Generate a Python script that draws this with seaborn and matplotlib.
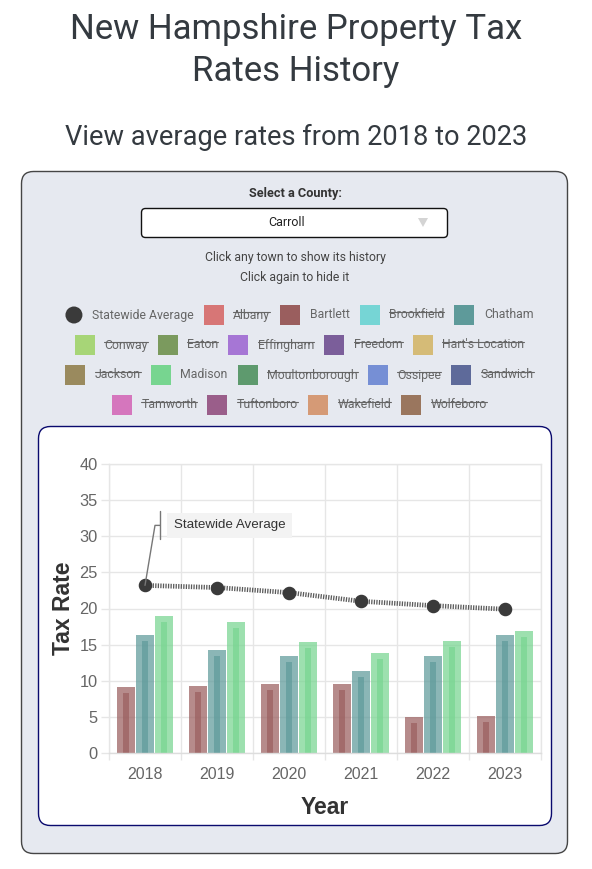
import matplotlib.pyplot as plt
import seaborn as sns
import pandas as pd
import numpy as np
from matplotlib.patches import FancyBboxPatch, Circle, Polygon
from matplotlib.lines import Line2D
from matplotlib.transforms import IdentityTransform

# --- data ---
years = ['2018', '2019', '2020', '2021', '2022', '2023']
bartlett = [9.1, 9.3, 9.6, 9.5, 5.0, 5.1]
chatham = [16.3, 14.2, 13.4, 11.3, 13.4, 16.4]
madison = [18.9, 18.2, 15.3, 13.8, 15.5, 16.9]
statewide = [23.2, 22.9, 22.2, 21.0, 20.4, 19.9]

towns = ['Albany', 'Bartlett', 'Brookfield', 'Chatham', 'Conway', 'Eaton',
         'Effingham', 'Freedom', "Hart's Location", 'Jackson', 'Madison',
         'Moultonborough', 'Ossipee', 'Sandwich', 'Tamworth', 'Tuftonboro',
         'Wakefield', 'Wolfeboro']
town_colors = ['#d77676', '#9a5e5e', '#76d5d5', '#5e9a9a', '#a7d577', '#7b9a5e',
               '#a676d5', '#7b5e9a', '#d5bb77', '#9a8a5e', '#77d590', '#5e9a6e',
               '#768fd5', '#5e6a9a', '#d576bd', '#9a5e8a', '#d59a76', '#9a765e']
shown_towns = ['Bartlett', 'Chatham', 'Madison']
legend_rows = [
    ['Statewide Average', 'Albany', 'Bartlett', 'Brookfield', 'Chatham'],
    ['Conway', 'Eaton', 'Effingham', 'Freedom', "Hart's Location"],
    ['Jackson', 'Madison', 'Moultonborough', 'Ossipee', 'Sandwich'],
    ['Tamworth', 'Tuftonboro', 'Wakefield', 'Wolfeboro'],
]

palette = dict(zip(towns, town_colors))
bars_df = pd.DataFrame({
    'Year': years * 3,
    'Rate': bartlett + chatham + madison,
    'Town': ['Bartlett'] * 6 + ['Chatham'] * 6 + ['Madison'] * 6,
})
avg_df = pd.DataFrame({'Year': years, 'Rate': statewide})

W, H = 592, 869
sns.set_theme(style='whitegrid')
plt.rcParams['font.family'] = ['Roboto', 'DejaVu Sans']
fig = plt.figure(figsize=(W / 100, H / 100), dpi=100)
fig.patch.set_facecolor('white')
px = IdentityTransform()


def box(x0, y0, x1, y1, r, fc, ec, lw=1.0, z=-2):
    # rounded box in pixel coords (y measured from the top)
    p = FancyBboxPatch((x0, H - y1), x1 - x0, y1 - y0,
                       boxstyle=f'round,pad=0,rounding_size={r}',
                       fc=fc, ec=ec, lw=lw, transform=px, zorder=z)
    fig.add_artist(p)


def text(x, y, s, **kw):
    return fig.text(x, H - y, s, transform=px, ha='center', va='center', **kw)


# page header
title_c = '#343a40'
text(296, 29, 'New Hampshire Property Tax', fontsize=25, color=title_c)
text(296, 72, 'Rates History', fontsize=25, color=title_c)
text(296, 137, 'View average rates from 2018 to 2023', fontsize=19.6, color=title_c)

# control panel
box(21.5, 171.5, 567.5, 853.5, 12, '#e6e9f0', '#454545', 1.0, z=-3)
text(295, 193, 'Select a County:', fontsize=9.2, fontweight='bold', color='#333333')
box(141.5, 208.5, 447.5, 237.5, 4, 'white', '#111111', 1.0)
text(287, 222, 'Carroll', fontsize=9, color='#222222')
fig.add_artist(Polygon([(418, H - 218), (428, H - 218), (423, H - 227)],
                       closed=True, fc='#d4d4d4', ec='none', transform=px))
text(295, 258, 'Click any town to show its history', fontsize=8.8, color='#444444')
text(295, 277, 'Click again to hide it', fontsize=8.8, color='#444444')

# legend (hidden towns are struck through)
renderer = fig.canvas.get_renderer()
row_y = [315, 345, 375, 405]
for ry, row in zip(row_y, legend_rows):
    items = []
    for name in row:
        t = fig.text(0, H - ry, name, transform=px, ha='left', va='center',
                     fontsize=8.85, color='#666666')
        w = t.get_window_extent(renderer).width
        sw = 17 if name == 'Statewide Average' else 20
        items.append((name, t, w, sw))
    total = sum(sw + 9.5 + w for _, _, w, sw in items) + 10 * (len(items) - 1)
    x = 299.5 - total / 2
    for name, t, w, sw in items:
        if name == 'Statewide Average':
            fig.add_artist(Circle((x + sw / 2, H - ry), sw / 2, fc='#3a3a3a',
                                  ec='none', transform=px))
        else:
            fig.add_artist(FancyBboxPatch((x, H - ry - 10), 20, 20, boxstyle='square,pad=0',
                                          fc=palette[name], ec='none', transform=px))
        tx = x + sw + 9.5
        t.set_position((tx, H - ry))
        if name != 'Statewide Average' and name not in shown_towns:
            fig.add_artist(Line2D([tx, tx + w], [H - ry + 3, H - ry + 3],
                                  color='#666666', lw=0.8, transform=px))
        x = tx + w + 10

# chart card
box(38.5, 426.5, 551.5, 825.5, 12, 'white', '#0a0a6e', 1.0, z=-1)

ax = fig.add_axes([109 / W, 1 - 753 / H, 432 / W, 289 / H])
ax.set_zorder(1)
ax.set_facecolor('white')

sns.barplot(data=bars_df, x='Year', y='Rate', hue='Town', hue_order=shown_towns,
            palette=palette, width=0.795, gap=0.09, alpha=0.72, saturation=1,
            errorbar=None, legend=False, ax=ax)
n_outer = len(ax.patches)
sns.barplot(data=bars_df, x='Year', y='Rate', hue='Town', hue_order=shown_towns,
            palette=palette, width=0.795, gap=0.72, alpha=0.7, saturation=1,
            errorbar=None, legend=False, ax=ax)
for p in ax.patches:
    p.set_edgecolor('none')
    p.set_linewidth(0)

n_lines = len(ax.lines)
sns.pointplot(data=avg_df, x='Year', y='Rate', color='#3a3a3a', markers='o',
              errorbar=None, markersize=7.2, linewidth=3.4, ax=ax, zorder=5)
for ln in ax.lines[n_lines:]:
    if ln.get_marker() == 'o':
        ln.set_linestyle((0, (0.27, 0.27)))
        ln.set_color('#5a5a5a')
        ln.set_markerfacecolor('#3a3a3a')
        ln.set_markeredgecolor('#3a3a3a')
        ln.set_zorder(5)

ax.set_ylim(0, 40)
ax.set_xlim(-0.5, len(years) - 0.5)
ax.set_yticks(range(0, 41, 5))

# inner bars sit a few pixels below the outer bar tops
inset = 6 / (289 / 40)
for p in ax.patches[n_outer:]:
    p.set_height(p.get_height() - inset)

grid_c = '#e6e6e6'
ax.set_xticks(np.arange(-0.5, len(years), 1), minor=True)
ax.grid(False)
ax.grid(True, which='minor', axis='x', color=grid_c, lw=1)
ax.grid(True, which='major', axis='y', color=grid_c, lw=1)
ax.tick_params(axis='x', which='minor', bottom=True, length=5, width=1, color=grid_c)
ax.tick_params(axis='x', which='major', bottom=True, length=0, pad=10,
               labelsize=11.5, labelcolor='#666666')
ax.tick_params(axis='y', left=True, length=6, width=1, color=grid_c, pad=2,
               labelsize=11.8, labelcolor='#666666')
for lab in ax.get_xticklabels() + ax.get_yticklabels():
    lab.set_fontfamily('Liberation Sans')
for side, sp in ax.spines.items():
    sp.set_color(grid_c)
    sp.set_linewidth(1)
ax.spines['bottom'].set_color('#dddddd')

ax.set_xlabel('Year', fontsize=16.5, fontweight='bold', color='#333333',
              family='Liberation Sans')
ax.xaxis.set_label_coords(0.5, -(808 - 753) / 289)
ax.xaxis.label.set_va('center')
ax.set_ylabel('Tax Rate', fontsize=16.5, fontweight='bold', color='#333333',
              family='Liberation Sans', va='center')
ax.yaxis.set_label_coords((63 - 109) / 432, 0.5)

# "Statewide Average" callout on the first point
fig.canvas.draw()
p0 = ax.transData.transform((0, statewide[0]))
lc = '#777777'
fig.add_artist(Line2D([p0[0], p0[0] + 10, p0[0] + 15], [p0[1], p0[1] + 60, p0[1] + 60],
                      color=lc, lw=1, transform=px, zorder=4))
fig.add_artist(Line2D([p0[0] + 15, p0[0] + 15], [p0[1] + 46, p0[1] + 74],
                      color=lc, lw=1, transform=px, zorder=4))
ax.annotate('Statewide Average', xy=(0, statewide[0]), xytext=(84.5, 60),
            textcoords='offset pixels', ha='center', va='center', fontsize=9.6,
            color='#333333', family='Liberation Sans', zorder=6,
            bbox=dict(boxstyle='square,pad=0.5', fc='#f3f3f3', ec='none'))

fig.savefig('out.png', dpi=100)
plt.close(fig)
